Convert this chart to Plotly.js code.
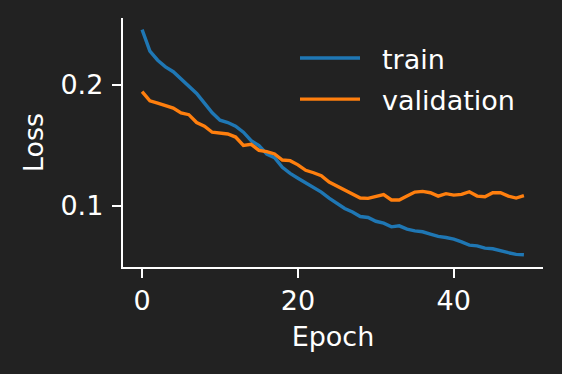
<!DOCTYPE html>
<html>
<head>
<meta charset="utf-8">
<script src="https://cdn.plot.ly/plotly-3.0.1.min.js"></script>
<style>html,body{margin:0;padding:0;background:#222222;}</style>
</head>
<body>
<div id="chart" style="width:562px;height:374px;"></div>
<script>
const epochs = Array.from({length: 50}, (_, i) => i);
const trainLoss = [0.2458, 0.228, 0.2205, 0.215, 0.211, 0.205, 0.199, 0.193, 0.185, 0.177,
  0.171, 0.169, 0.166, 0.161, 0.154, 0.150, 0.143, 0.140, 0.132, 0.127,
  0.123, 0.119, 0.115, 0.1115, 0.1065, 0.1025, 0.098, 0.095, 0.0913, 0.0905,
  0.0874, 0.0858, 0.0828, 0.0836, 0.0809, 0.0795, 0.0787, 0.0768, 0.0749, 0.074,
  0.0726, 0.0704, 0.0677, 0.0671, 0.0652, 0.0647, 0.0628, 0.0614, 0.060, 0.0597];
const valLoss = [0.1945, 0.187, 0.185, 0.183, 0.181, 0.177, 0.1755, 0.169, 0.166, 0.161,
  0.160, 0.1595, 0.157, 0.150, 0.151, 0.146, 0.145, 0.143, 0.138, 0.1375,
  0.134, 0.1295, 0.1275, 0.125, 0.1198, 0.1166, 0.1131, 0.1096, 0.1066, 0.1063,
  0.108, 0.1094, 0.105, 0.105, 0.1082, 0.1115, 0.1121, 0.111, 0.1082, 0.1102,
  0.109, 0.1096, 0.1118, 0.1082, 0.1077, 0.111, 0.111, 0.1082, 0.1066, 0.1085];
const seriesNames = ["train", "validation"];
const xTicks = [0, 20, 40];
const yTicks = [0.1, 0.2];

const fontFam = "DejaVu Sans, sans-serif";
const fg = "#ffffff";
const fs = 27;

const traces = [
  {x: epochs, y: trainLoss, name: seriesNames[0], type: "scatter", mode: "lines",
   line: {color: "#1f77b4", width: 3.4}, legendgroup: "a"},
  {x: epochs, y: valLoss, name: seriesNames[1], type: "scatter", mode: "lines",
   line: {color: "#ff7f0e", width: 3.4}, legendgroup: "b"}
];

const layout = {
  width: 562, height: 374,
  paper_bgcolor: "#222222", plot_bgcolor: "#222222",
  margin: {l: 123, r: 19, t: 18, b: 107},
  font: {family: fontFam, color: fg, size: fs},
  showlegend: true,
  legend: {x: 0.450, xanchor: "left", y: 0.936, yanchor: "top", bgcolor: "rgba(0,0,0,0)",
           font: {size: fs, color: fg}, itemwidth: 60, tracegroupgap: 3, traceorder: "grouped"},
  xaxis: {range: [-2.45, 51.45], tickvals: xTicks, ticktext: xTicks.map(String),
          showgrid: false, zeroline: false, showline: true, linecolor: fg, linewidth: 2.2,
          ticks: "outside", ticklen: 9, tickwidth: 2.2, tickcolor: fg,
          tickfont: {size: fs, color: fg}, ticklabelstandoff: -1,
          title: {text: "Epoch", font: {size: fs, color: fg}, standoff: 13}},
  yaxis: {range: [0.0496, 0.2554], tickvals: yTicks, ticktext: ["0.1", "0.2"],
          showgrid: false, zeroline: false, showline: true, linecolor: fg, linewidth: 2.2,
          ticks: "outside", ticklen: 9, tickwidth: 2.2, tickcolor: fg,
          tickfont: {size: fs, color: fg}, ticklabelstandoff: 3,
          title: {text: "Loss", font: {size: fs, color: fg}, standoff: 9}}
};

Plotly.newPlot("chart", traces, layout, {displayModeBar: false, staticPlot: true}).then(function (gd) {
  // matplotlib-style legend: wider gap between the line sample and its label
  document.querySelectorAll("#chart .legend [clip-path]").forEach(function (el) {
    el.removeAttribute("clip-path");
  });
  document.querySelectorAll("#chart .legend .legendlines").forEach(function (g) {
    g.setAttribute("transform", "translate(-17,0)");
  });
});
</script>
</body>
</html>
